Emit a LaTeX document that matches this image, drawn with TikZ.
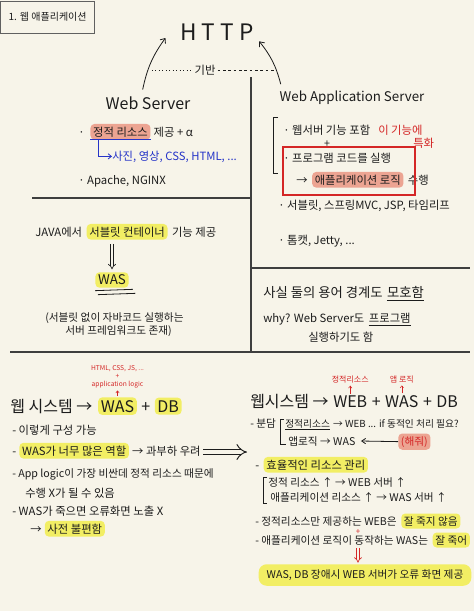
\documentclass[tikz,border=0pt]{standalone}
\usepackage{fontspec}
\setmainfont{Noto Sans CJK KR}
\usetikzlibrary{positioning,arrows.meta}
\definecolor{paper}{RGB}{247,244,233}
\definecolor{ink}{RGB}{28,28,28}
\definecolor{hlyellow}{RGB}{242,238,100}
\definecolor{hlsalmon}{RGB}{236,164,146}
\definecolor{inkred}{RGB}{212,38,38}
\definecolor{inkblue}{RGB}{38,52,200}
\newcommand\fsbig{\fontsize{12}{14}\selectfont}
\newcommand\fsmid{\fontsize{10}{12}\selectfont}
\newcommand\fsn{\fontsize{8.5}{10}\selectfont}
\newcommand\fss{\fontsize{8}{10}\selectfont}
\newcommand\fstiny{\fontsize{5}{6}\selectfont}
\tikzset{
  tx/.style={inner sep=0pt, anchor=base west, font=\fsn, text=ink},
  hly/.style={tx, fill=hlyellow, rounded corners=3pt, inner xsep=2pt, inner ysep=2pt},
  hls/.style={hly, fill=hlsalmon},
  redtx/.style={inner sep=0.5pt, font=\fstiny, text=inkred},
  rule/.style={line width=0.9pt, ink!85},
  pen/.style={line width=0.6pt, ink},
  barb/.style={pen, -{Straight Barb[length=3pt,width=5pt]}},
  redarr/.style={line width=0.4pt, inkred, -{Straight Barb[length=1.5pt,width=2.5pt]}, shorten <=1pt, shorten >=1pt},
  dblarr/.style={draw=ink, line width=0.5pt, double=paper, double distance=1.6pt, -{Implies}},
}
\begin{document}
\begin{tikzpicture}[x=0.75pt, y=-0.75pt]
\useasboundingbox[fill=paper] (0,0) rectangle (474,611);

% title and HTTP
\node[draw=ink!70, line width=0.7pt, anchor=north west, minimum width=70pt, minimum height=24pt,
  inner sep=0pt, font=\fontsize{7.5}{9}\selectfont, text=ink] (title) at (0.5,0.5) {1. 웹 애플리케이션};
\node[font=\fontsize{17}{20}\selectfont, inner sep=1pt, text=ink] (http) at (217,32) {H T T P};
\node[font=\fsn, inner sep=1.5pt, text=ink] (base) at (205,70) {기반};
\coordinate (baseL) at (152,70);
\coordinate (baseR) at (277,70);
\draw[pen, dotted] (baseL) -- (base.west);
\draw[pen, dash pattern=on 2pt off 2pt] (base.east) -- (baseR);

% dividers
\coordinate (vtop) at (251,77);
\coordinate (vbot) at (251,352);
\draw[rule] (vtop) -- (vbot);
\draw[rule] (32,198) -- (251,198);
\draw[rule] (251,268) -- (470,268);
\draw[rule] (10,352) -- (470,352);

% web server
\node[font=\fsbig, inner sep=1pt, text=ink] (ws) at (148,103) {Web Server};
\draw[barb] ([xshift=-4pt,yshift=4pt]ws.north) to[bend left=12] ([xshift=-10pt,yshift=-4.5pt]http.west);
\node[tx] (ws1) at (78,136) {·};
\node[hls] (ws1h) at ([xshift=4pt]ws1.base east) {정적 리소스};
\node[tx] (ws1t) at ([xshift=2pt]ws1h.base east) {제공 + α};
\draw[inkblue, line width=0.6pt] (ws1h.south west) -- (ws1h.south east);
\node[tx, text=inkblue] (wsblue) at (112,160) {사진, 영상, CSS, HTML, ...};
\draw[inkblue, line width=0.6pt, -{Straight Barb[length=2.5pt,width=4pt]}] ([xshift=6pt]ws1h.south west) |- (wsblue.west);
\node[tx] (ws2) at (78,184) {· Apache, NGINX};

% web application server
\node[font=\fsmid, inner sep=1pt, text=ink] (wasT) at (352,98) {Web Application Server};
\draw[barb] ([xshift=2pt,yshift=4pt]wasT.north west) to[bend right=12] ([xshift=3pt,yshift=-7pt]http.east);
\draw[pen] (278,117) -- (273,117) -- (273,173) -- (278,173);
\node[tx] (wa1) at (283,134) {· 웹서버 기능 포함};
\node[font=\fss, inner sep=0pt, text=ink] (wa1p) at (327,144) {+};
\node[tx] (wa2) at (283,162) {· 프로그램 코드를 실행};
\node[tx] (wa3a) at (296,184) {→};
\node[hls] (wa3h) at ([xshift=3pt]wa3a.base east) {애플리케이션 로직};
\node[tx] (wa3t) at ([xshift=3pt]wa3h.base east) {수행};
\draw[inkred, line width=0.8pt] (283,147) rectangle (415,195);
\node[tx, text=inkred] (wared) at (378,134) {이 기능에};
\node[tx, text=inkred] (wared2) at (413,147) {특화};
\node[tx] (wa4) at (278,209) {· 서블릿, 스프링MVC, JSP, 타임리프};
\node[tx] (wa5) at (278,244) {· 톰캣, Jetty, ...};

% servlet container
\node[tx] (jv1) at (35,236) {JAVA에서};
\node[hly] (jvh) at ([xshift=3pt]jv1.base east) {서블릿 컨테이너};
\node[tx] (jv2) at ([xshift=3pt]jvh.base east) {기능 제공};
\node[hly, font=\fsmid, anchor=center] (wasn) at (112,280) {WAS};
\draw[dblarr] ([yshift=-3pt]wasn.north |- jvh.south) -- ([yshift=2pt]wasn.north);
\draw[pen] ([yshift=-2pt]wasn.south west) -- ([xshift=3pt,yshift=-1pt]wasn.south east);
\draw[pen] ([xshift=2pt,yshift=-5pt]wasn.south west) -- ([xshift=5pt,yshift=-4pt]wasn.south east);
\node[tx, font=\fss] (jv3) at (45,321) {(서블릿 없이 자바코드 실행하는};
\node[tx, font=\fss] (jv4) at (65,334) {서버 프레임워크도 존재)};

% boundary
\node[tx, font=\fsmid] (am1) at (263,297) {사실 둘의 용어 경계도};
\node[tx, font=\fsmid] (am1b) at ([xshift=3pt]am1.base east) {모호함};
\draw[pen] ([yshift=-2pt]am1b.south west) -- ([yshift=-2pt]am1b.south east);
\node[tx] (am2) at (263,322) {why? Web Server도};
\node[tx] (am2b) at ([xshift=3pt]am2.base east) {프로그램};
\draw[pen] ([yshift=-1.5pt]am2b.south west) -- ([yshift=-1.5pt]am2b.south east);
\node[tx] (am3) at (308,341) {실행하기도 함};

% web system: WAS + DB
\node[tx, font=\fsbig] (ls1) at (10,412) {웹 시스템 →};
\node[hly, font=\fsbig] (lsWAS) at ([xshift=4pt]ls1.base east) {WAS};
\node[tx, font=\fsbig] (lsp) at ([xshift=3pt]lsWAS.base east) {+};
\node[hly, font=\fsbig] (lsDB) at ([xshift=3pt]lsp.base east) {DB};
\node[redtx, above=6pt of lsWAS, align=center] (lsann) {HTML, CSS, JS, ...\\+\\application logic};
\draw[redarr] (lsWAS.north) -- (lsann.south);
\node[tx] (ll1) at (12,434) {- 이렇게 구성 가능};
\node[tx] (ll2) at (12,455) {-};
\node[hly] (ll2h) at ([xshift=2pt]ll2.base east) {WAS가 너무 많은 역할};
\node[tx] (ll2t) at ([xshift=2pt]ll2h.base east) {→ 과부하 우려};
\node[tx, font=\fss] (ll3) at (12,477) {- App logic이 가장 비싼데 정적 리소스 때문에};
\node[tx] (ll4) at (25,497) {수행 X가 될 수 있음};
\node[tx] (ll5) at (12,515) {- WAS가 죽으면 오류화면 노출 X};
\node[tx] (ll6) at (30,533) {→};
\node[hly] (ll6h) at ([xshift=2pt]ll6.base east) {사전 불편함};

\coordinate (bigL) at (203,452);
\coordinate (bigR) at (247,452);
\draw[dblarr, line width=0.7pt, double distance=3.5pt] (bigL) -- (bigR);

% web system: WEB + WAS + DB
\node[tx, font=\fsbig] (rs1) at (250,407) {웹시스템 →};
\node[tx, font=\fsbig] (rsWEB) at ([xshift=3pt]rs1.base east) {WEB};
\node[tx, font=\fsbig] (rsp1) at ([xshift=3pt]rsWEB.base east) {+};
\node[tx, font=\fsbig] (rsWAS) at ([xshift=3pt]rsp1.base east) {WAS};
\node[tx, font=\fsbig] (rsp2) at ([xshift=3pt]rsWAS.base east) {+};
\node[tx, font=\fsbig] (rsDB) at ([xshift=3pt]rsp2.base east) {DB};
\node[redtx, font=\fontsize{6}{7}\selectfont, above=8pt of rsWEB] (rsann1) {정적리소스};
\node[redtx, font=\fontsize{6}{7}\selectfont, above=8pt of rsWAS] (rsann2) {앱 로직};
\draw[redarr] (rsWEB.north) -- (rsann1.south);
\draw[redarr] (rsWAS.north) -- (rsann2.south);

\node[tx, font=\fss] (rd1) at (250,427) {- 분담};
\draw[pen] (284,419) -- (280,419) -- (280,444) -- (286,444);
\node[tx, font=\fontsize{7.3}{9}\selectfont] (rd1a) at (285,427) {정적리소스};
\draw[pen] ([yshift=-1pt]rd1a.south west) -- ([yshift=-1pt]rd1a.south east);
\node[tx, font=\fontsize{7.3}{9}\selectfont] (rd1b) at ([xshift=2pt]rd1a.base east) {→ WEB ... if 동적인 처리 필요?};
\node[tx, font=\fss] (rd2) at (288,445) {앱로직 → WAS};
\node[hls, font=\fss, text=inkred] (rdhelp) at (398,445) {(해줘)};
\draw[pen, -{Straight Barb[length=3pt,width=4pt]}] (rdhelp.west) -- ([xshift=4pt]rd2.east);

\node[tx] (re1) at (255,469) {-};
\node[hly] (re1h) at ([xshift=3pt]re1.base east) {효율적인 리소스 관리};
\draw[pen] (267,477) -- (263,477) -- (263,503) -- (267,503);
\node[tx, font=\fss] (re2) at (268,486) {정적 리소스 ↑ → WEB 서버 ↑};
\node[tx, font=\fss] (re3) at (270,501) {애플리케이션 리소스 ↑ → WAS 서버 ↑};
\node[tx, font=\fss] (re4) at (255,525) {- 정적리소스만 제공하는 WEB은};
\node[hly, font=\fss] (re4h) at ([xshift=3pt]re4.base east) {잘 죽지 않음};
\node[redtx, font=\fontsize{6}{7}\selectfont, inner sep=0pt] (replus) at (358,532) {+};
\node[tx, font=\fss] (re5) at (255,544) {- 애플리케이션 로직이 동작하는 WAS는};
\node[hly, font=\fss] (re5h) at ([xshift=3pt]re5.base east) {잘 죽어};
\node[hly, font=\fss, anchor=center, rounded corners=6pt, inner xsep=6pt, inner ysep=4pt] (re6) at (365,575) {WAS, DB 장애시 WEB 서버가 오류 화면 제공};
\draw[dblarr, draw=inkred, shorten <=2pt, shorten >=1pt] (replus |- re5.south) -- (replus |- re6.north);
\end{tikzpicture}
\end{document}
